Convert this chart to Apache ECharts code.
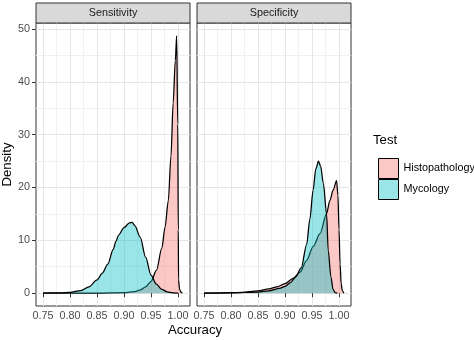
<!DOCTYPE html>
<html><head><meta charset="utf-8">
<script src="https://cdn.jsdelivr.net/npm/echarts@6/dist/echarts.min.js"></script>
<style>html,body{margin:0;padding:0;background:#fff}#c{width:474px;height:340px}</style>
</head><body><div id="c"></div>
<script>
const panels = ['Sensitivity', 'Specificity'];
const tests = ['Histopathology', 'Mycology'];
const xTicks = [0.75, 0.80, 0.85, 0.90, 0.95, 1.00];
const xMinorTicks = [0.775, 0.825, 0.875, 0.925, 0.975];
const yTicks = [0, 10, 20, 30, 40, 50];
const yMinorTicks = [5, 15, 25, 35, 45];

// Sensitivity panel
const sensHistoX = [0.75, 0.80, 0.85, 0.90, 0.92, 0.93, 0.94, 0.95, 0.96, 0.97, 0.976, 0.982, 0.987, 0.991, 0.995, 0.9975, 0.9995, 1.0005, 1.001, 1.003, 1.006, 1.008];
const sensHistoY = [0.0, 0.01, 0.03, 0.1, 0.3, 0.6, 1.2, 2.2, 4.3, 8.5, 12.5, 17.5, 26, 36, 44, 48.7, 32, 12, 2.5, 0.7, 0.15, 0];
const sensMycoX = [0.75, 0.78, 0.80, 0.82, 0.835, 0.85, 0.86, 0.87, 0.88, 0.885, 0.89, 0.90, 0.91, 0.915, 0.92, 0.93, 0.94, 0.95, 0.96, 0.97, 0.98, 0.99, 1.00];
const sensMycoY = [0.02, 0.05, 0.15, 0.5, 1.2, 2.5, 3.8, 5.5, 8.3, 9.8, 11.0, 12.4, 13.3, 13.4, 12.8, 10.6, 6.8, 3.4, 1.7, 0.7, 0.25, 0.07, 0.01];

// Specificity panel
const specHistoX = [0.75, 0.78, 0.80, 0.82, 0.85, 0.87, 0.885, 0.90, 0.915, 0.928, 0.94, 0.952, 0.965, 0.977, 0.983, 0.989, 0.9955, 0.998, 1.0, 1.002, 1.004, 1.006, 1.009];
const specHistoY = [0.0, 0.03, 0.08, 0.15, 0.45, 0.8, 1.2, 1.8, 2.8, 4.0, 6.2, 8.8, 11.3, 15.1, 17.5, 19.5, 21.3, 18.5, 12, 5.5, 1.8, 0.5, 0];
const specMycoX = [0.75, 0.80, 0.85, 0.87, 0.89, 0.90, 0.91, 0.92, 0.93, 0.94, 0.946, 0.952, 0.957, 0.962, 0.966, 0.971, 0.977, 0.98, 0.985, 0.989, 0.993, 0.997];
const specMycoY = [0.0, 0.05, 0.2, 0.45, 0.9, 1.3, 2.0, 3.1, 4.8, 9.2, 14.0, 19.5, 23.5, 25.0, 24.0, 20.8, 15.0, 8.1, 3.1, 0.7, 0.1, 0];

const X_MIN = 0.737, X_MAX = 1.0222, Y_MIN = -2.43, Y_MAX = 51.13;
const FONT = '"Liberation Sans", Arial, sans-serif';
const TXT = 10.8, TITLE = 13.2;
const fills = ['rgba(248,118,109,0.4)', 'rgba(0,191,196,0.4)'];
const keyFills = ['#FCC8C5', '#99E5E7'];

const zip = (xs, ys) => xs.map((x, i) => [x, ys[i]]);
const panelData = [
  [zip(sensHistoX, sensHistoY), zip(sensMycoX, sensMycoY)],
  [zip(specHistoX, specHistoY), zip(specMycoX, specMycoY)]
];

const gridPos = [{left: 36, top: 23, width: 154, height: 283}, {left: 197, top: 23, width: 154, height: 283}];
const grid = gridPos.map(g => Object.assign({show: true, borderColor: '#333333', borderWidth: 1, backgroundColor: '#ffffff'}, g));

const xAxis = [], yAxis = [];
[0, 1].forEach(i => {
  xAxis.push({
    type: 'value', gridIndex: i, min: X_MIN, max: X_MAX,
    axisLine: {show: false},
    axisTick: {show: true, length: 4, lineStyle: {color: '#333333'}, customValues: xTicks},
    axisLabel: {customValues: xTicks, formatter: v => v.toFixed(2), color: '#4D4D4D', fontSize: TXT, fontFamily: FONT, margin: 5},
    splitLine: {show: true, lineStyle: {color: '#E6E6E6', width: 1}}
  });
  yAxis.push({
    type: 'value', gridIndex: i, min: Y_MIN, max: Y_MAX,
    axisLine: {show: false},
    axisTick: {show: i === 0, length: 4, lineStyle: {color: '#333333'}, customValues: yTicks},
    axisLabel: {show: i === 0, customValues: yTicks, color: '#4D4D4D', fontSize: TXT, fontFamily: FONT, margin: 6},
    splitLine: {show: true, lineStyle: {color: '#E6E6E6', width: 1}},
    name: i === 0 ? 'Density' : '', nameLocation: 'middle', nameGap: 19, nameRotate: 90,
    nameTextStyle: {fontSize: TITLE, color: '#000', fontFamily: FONT}
  });
});
[0, 1].forEach(i => {
  xAxis.push({
    type: 'value', gridIndex: i, min: X_MIN, max: X_MAX,
    axisLine: {show: false},
    axisTick: {show: false, customValues: xMinorTicks},
    axisLabel: {show: false, customValues: xMinorTicks},
    splitLine: {show: true, lineStyle: {color: '#F1F1F1', width: 1}}
  });
  yAxis.push({
    type: 'value', gridIndex: i, min: Y_MIN, max: Y_MAX,
    axisLine: {show: false},
    axisTick: {show: false, customValues: yMinorTicks},
    axisLabel: {show: false, customValues: yMinorTicks},
    splitLine: {show: true, lineStyle: {color: '#F1F1F1', width: 1}}
  });
});

const series = [];
[0, 1].forEach(p => {
  tests.forEach((t, k) => {
    series.push({
      type: 'line', name: t, xAxisIndex: p, yAxisIndex: p,
      data: panelData[p][k],
      smooth: 0.3, smoothMonotone: 'x', showSymbol: false, symbol: 'none',
      lineStyle: {color: '#000', width: 1.25},
      itemStyle: {color: keyFills[k]},
      areaStyle: {color: fills[k], opacity: 1},
      z: 3 + k, silent: true
    });
  });
});

const graphic = [];
panels.forEach((name, i) => {
  const g = gridPos[i];
  graphic.push({type: 'rect', shape: {x: g.left, y: 3, width: g.width, height: 20},
    style: {fill: '#D9D9D9', stroke: '#333333', lineWidth: 1}, z: 10});
  graphic.push({type: 'text', x: g.left + g.width / 2, y: 13,
    style: {text: name, fill: '#1A1A1A', font: TXT + 'px ' + FONT, textAlign: 'center', align: 'center', textVerticalAlign: 'middle', verticalAlign: 'middle'}, z: 11});
});
graphic.push({type: 'text', x: 195, y: 330,
  style: {text: 'Accuracy', fill: '#000', font: TITLE + 'px ' + FONT, textAlign: 'center', align: 'center', textVerticalAlign: 'middle', verticalAlign: 'middle'}});
graphic.push({type: 'text', x: 373, y: 140,
  style: {text: 'Test', fill: '#000', font: TITLE + 'px ' + FONT, textAlign: 'left', align: 'left', textVerticalAlign: 'middle', verticalAlign: 'middle'}});

const chart = echarts.init(document.getElementById('c'), null, {renderer: 'canvas'});
chart.setOption({
  animation: false,
  backgroundColor: '#ffffff',
  grid, xAxis, yAxis, series, graphic,
  legend: {
    orient: 'vertical', left: 373, top: 153, itemWidth: 20, itemHeight: 20, itemGap: 0,
    icon: 'rect', selectedMode: false,
    textStyle: {fontSize: TXT, color: '#000', fontFamily: FONT},
    data: tests.map((t, k) => ({name: t, itemStyle: {color: keyFills[k], borderColor: '#000', borderWidth: 1}}))
  }
});
</script></body></html>
